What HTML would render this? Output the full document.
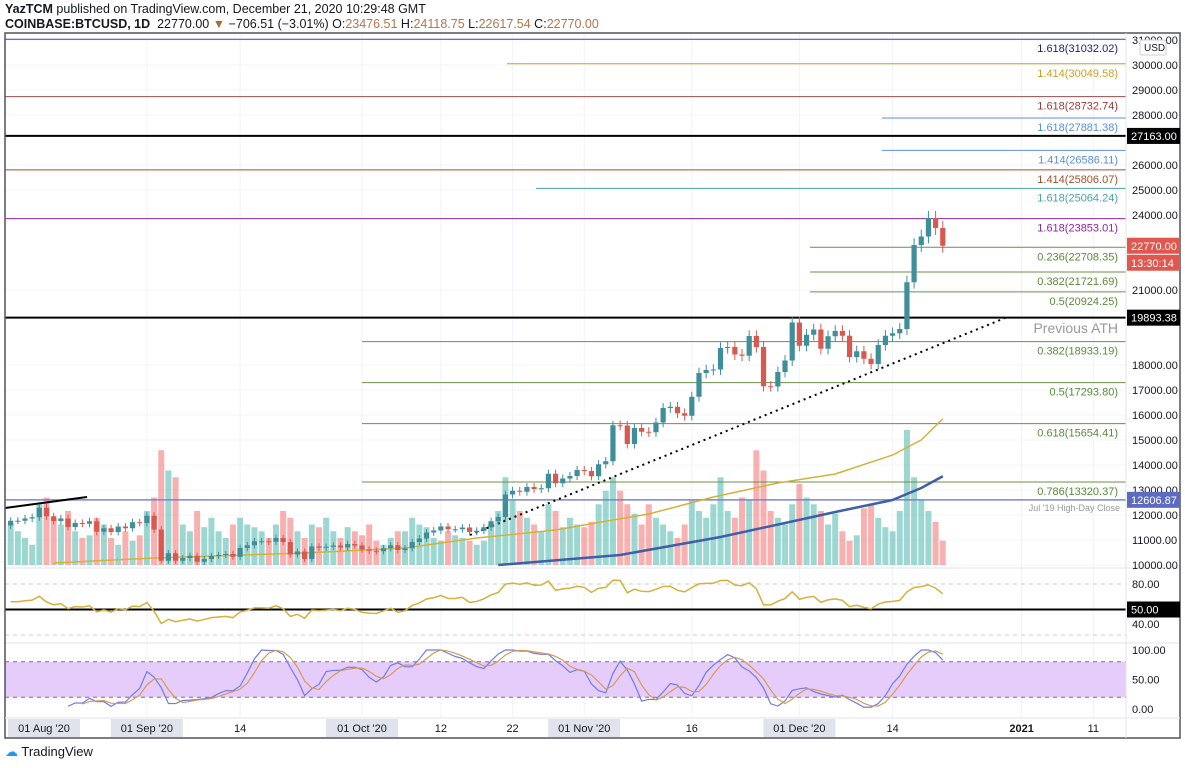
<!DOCTYPE html>
<html><head><meta charset="utf-8">
<style>
body{margin:0;background:#fff;font-family:"Liberation Sans",sans-serif;}
#wrap{position:relative;width:1185px;height:768px;overflow:hidden;background:#fff}
.hdr{position:absolute;left:5px;font-size:12.5px;color:#131722;white-space:nowrap}
</style></head><body>
<div id="wrap">
<div class="hdr" style="top:2px"><b>YazTCM</b> published on TradingView.com, December 21, 2020 10:29:48 GMT</div>
<div class="hdr" style="top:17px"><b>COINBASE:BTCUSD, 1D</b>&nbsp; 22770.00 <span style="color:#a0703a">▼</span> −706.51 (−3.01%) O:<span style="color:#b5744a">23476.51</span> H:<span style="color:#b5744a">24118.75</span> L:<span style="color:#b5744a">22617.54</span> C:<span style="color:#b5744a">22770.00</span></div>
<svg id="svg" width="1185" height="768" style="position:absolute;left:0;top:0"></svg>
<div style="position:absolute;left:5px;top:744px;font-size:13px;color:#131722"><span style="color:#2196f3">☁</span> TradingView</div>
</div>
<script>
const warmCloses=[11100,11350,11800,11070,11230,11190,11740,11770,11600,11750,11680,11880,11400,11580];
const closes=[11770,11770,11860,11910,12290,11950,11760,11860,11520,11680,11650,11750,11330,11470,11320,11540,11470,11710,11680,
11970,11420,10170,10470,10170,10280,10370,10130,10240,10360,10400,10440,10330,10680,10790,10950,10950,10930,11080,10920,10420,10540,10240,10740,10690,10730,10780,10700,10840,10780,
10620,10570,10550,10670,10790,10600,10670,10920,11060,11300,11380,11540,11430,11430,11500,11320,11370,11510,11750,11920,12820,12970,12930,13120,13040,13070,13650,13270,13460,13560,13800,
13760,13550,14030,14150,15590,15580,14840,15480,15330,15310,15700,16280,16330,16070,15970,16730,17680,17800,17820,18680,18720,18420,18370,19160,18720,17150,17140,17720,18180,19700,
18770,19210,19420,18650,19150,19360,19170,18320,18550,18250,18040,18800,19170,19270,19440,21310,22800,23140,23870,23480,22770];
const volumes=[30,25,20,15,45,50,35,30,40,25,20,22,35,30,20,15,25,18,22,
40,50,85,70,65,30,25,40,28,35,25,20,30,35,30,28,25,20,30,40,35,25,20,30,28,35,25,20,28,25,
22,30,18,15,20,25,25,35,30,28,20,18,25,22,20,18,15,18,30,40,65,48,40,35,30,25,45,40,28,35,30,
28,32,45,55,65,55,45,38,30,45,35,30,25,20,30,48,40,35,45,65,40,35,50,48,85,70,40,35,30,45,
60,50,45,40,30,38,25,18,22,42,45,35,28,25,40,100,65,48,40,32,18];
const yellowMaIdx=[6,20,41,55,65,76,84,89,98,107,115,123,127,130];
const yellowMa=[10080,10280,10480,10680,11080,11400,11800,12040,12720,13280,13640,14400,15000,15850];
const blueMaIdx=[68,85,99,108,115,123,127,130];
const blueMa=[10000,10400,11120,11680,12120,12600,13080,13550];
const priceTicks=[31000,30000,29000,28000,26000,25000,24000,21000,18000,17000,16000,15000,14000,13000,12000,11000,10000];
const timeLabels=[["01 Aug '20",-66,1],["01 Sep '20",-30,1],["14",-17,0],["01 Oct '20",0,1],["12",11,0],["22",21,0],["01 Nov '20",31,1],["16",46,0],["01 Dec '20",61,1],["14",74,0],["2021",92,0],["11",102,0]];
const levels=[[31032.02,"1.618(31032.02)","#1a237e","#3f3fb0",5,1],[30049.58,"1.414(30049.58)","#c9a227","#c9a227",507,1],[28732.74,"1.618(28732.74)","#9b3a3a","#9b4a4a",5,1],[27881.38,"1.618(27881.38)","#5b8fd6","#5b8fd6",882,1],[27163,"","#000","#000",5,2],[26586.11,"1.414(26586.11)","#5b8fd6","#5b8fd6",882,1],[25806.07,"1.414(25806.07)","#a0522d","#a0522d",5,1],[25064.24,"1.618(25064.24)","#4aa3a3","#4aa3a3",536,1],[23853.01,"1.618(23853.01)","#8e24aa","#8e24aa",5,1],[22708.35,"0.236(22708.35)","#5a8a3a","#6d8f4a",810,1],[21721.69,"0.382(21721.69)","#5a8a3a","#6d8f4a",810,1],[20924.25,"0.5(20924.25)","#5a8a3a","#6d8f4a",810,1],[19893.38,"","#000","#000",5,2],[18933.19,"0.382(18933.19)","#5a8a3a","#6d8f4a",362,1],[17293.80,"0.5(17293.80)","#5a8a3a","#6d8f4a",362,1],[15654.41,"0.618(15654.41)","#5a8a3a","#6d8f4a",362,1],[13320.37,"0.786(13320.37)","#5a8a3a","#6d8f4a",362,1],[12606.87,"","#5c6bc0","#7986cb",5,1.5]];

const S=document.getElementById('svg');const NS='http://www.w3.org/2000/svg';
function el(t,a,p){const e=document.createElementNS(NS,t);for(const k in a)e.setAttribute(k,a[k]);(p||S).appendChild(e);return e;}
const L=5,R=1126,FR=1180,T=33,B=738;
const X=i=>362+(i-49)*7.17;
const Xd=d=>362+d*7.17;
const Y=p=>565-(p-10000)*0.025;
const YR=v=>609.5-(v-50)*0.85;
const YS=v=>709-v*0.59;
const g=el('g',{'clip-path':'url(#c)'});
const cp=el('clipPath',{id:'c'});el('rect',{x:L,y:T,width:R-L,height:B-20-T},cp);
for(const tl of timeLabels){const x=Xd(tl[1]);if(x>L&&x<R){const v=el('line',{x1:x,x2:x,y1:T,y2:718,stroke:'#f0f3fa'},g);}}
for(const p of priceTicks){const h=el('line',{x1:L,x2:R,y1:Y(p),y2:Y(p),stroke:'#f3f4f8'},g);}
const vmax=100;
closes.forEach((c,i)=>{const o=i?closes[i-1]:warmCloses[warmCloses.length-1];const h=volumes[i]/vmax*135;
 const r=el('rect',{x:X(i)-3,y:565-h,width:6,height:h,fill:c>=o?'rgba(38,166,154,0.45)':'rgba(239,83,80,0.45)'},g);
 });
levels.forEach(l=>{const y=Y(l[0]);const ln=el('line',{x1:l[4],x2:R,y1:y,y2:y,stroke:l[3],'stroke-width':l[5]},g);
 
 if(l[1]){const t=el('text',{x:1118,y:y+13,'text-anchor':'end','font-size':11,fill:l[2]});t.textContent=l[1];}});
function poly(ix,vals,col,w,name){const pts=ix.map((d,k)=>[X(d),Y(vals[k])]).map(p=>p.join(',')).join(' ');
 const p=el('polyline',{points:pts,fill:'none',stroke:col,'stroke-width':w,'stroke-linejoin':'round'},g);}
poly(yellowMaIdx,yellowMa,'#d4b13a',1.5,'ma-50-line');poly(blueMaIdx,blueMa,'#3f5fa8',2.5,'ma-200-line');
let tl=el('line',{x1:470,y1:535,x2:1005,y2:318,stroke:'#000','stroke-width':2,'stroke-dasharray':'2,4'},g);
tl=el('line',{x1:5,y1:508,x2:87,y2:497,stroke:'#000','stroke-width':2},g);
closes.forEach((c,i)=>{const o=i?closes[i-1]:warmCloses[warmCloses.length-1];const up=c>=o;const col=up?'#3f8e9a':'#d9584f';
 const hi=Math.max(o,c)*1.012,lo=Math.min(o,c)*0.988;const x=X(i);
 const w=el('line',{x1:x,x2:x,y1:Y(hi),y2:Y(lo),stroke:col,'stroke-width':1},g);
 const b=el('rect',{x:x-2.6,y:Y(Math.max(o,c)),width:5.2,height:Math.max(1,Math.abs(Y(o)-Y(c))),fill:col},g);});
let t=el('text',{x:1118,y:333,'text-anchor':'end','font-size':14,fill:'#999'});t.textContent='Previous ATH';
t=el('text',{x:1120,y:511,'text-anchor':'end','font-size':9,fill:'#999'});t.textContent="Jul '19 High-Day Close";
[568,643].forEach(y=>{const s=el('line',{x1:L,x2:FR,y1:y,y2:y,stroke:'#e0e3eb'});});
const all=warmCloses.concat(closes);const rsi=[];let ag=0,al=0;
for(let i=1;i<all.length;i++){const d=all[i]-all[i-1];const gg=Math.max(d,0),ll=Math.max(-d,0);
 if(i<=14){ag+=gg/14;al+=ll/14;}else{ag=(ag*13+gg)/14;al=(al*13+ll)/14;}
 rsi[i]=i>=14?100-100/(1+ag/(al||1e-9)):null;}
const off=warmCloses.length;
[[584,'#ccc','4,4',1],[635,'#ccc','4,4',1],[609.5,'#000','',2]].forEach(a=>{const l=el('line',{x1:L,x2:R,y1:a[0],y2:a[0],stroke:a[1],'stroke-dasharray':a[2],'stroke-width':a[3]});});
let pts=[];for(let i=0;i<closes.length;i++){const v=rsi[i+off];if(v!=null)pts.push(X(i)+','+YR(v));}
let pl=el('polyline',{points:pts.join(' '),fill:'none',stroke:'#d4b13a','stroke-width':1.5});
const br=el('rect',{x:L,y:YS(80),width:R-L,height:YS(20)-YS(80),fill:'#e6ccfa'});
[80,20].forEach(v=>{const l=el('line',{x1:L,x2:R,y1:YS(v),y2:YS(v),stroke:'#777','stroke-dasharray':'4,4'});});
const st=[];for(let i=0;i<all.length;i++){if(i<20||rsi[i]==null){st[i]=null;continue;}let mn=1e9,mx=-1e9;for(let j=i-13;j<=i;j++){const r=rsi[j];if(r==null)continue;mn=Math.min(mn,r);mx=Math.max(mx,r);}st[i]=mx>mn?(rsi[i]-mn)/(mx-mn)*100:50;}
const sma=(a,i,n)=>{let s=0;for(let j=i-n+1;j<=i;j++){if(a[j]==null)return null;s+=a[j];}return s/n;};
const K=all.map((_,i)=>sma(st,i,3)),D=all.map((_,i)=>sma(K,i,3));
[[K,'#6f7ce8','stoch-k-line'],[D,'#d59a5a','stoch-d-line']].forEach(s=>{const p=[];for(let i=0;i<closes.length;i++){const v=s[0][i+off];if(v!=null)p.push(X(i)+','+YS(v));}
 const q=el('polyline',{points:p.join(' '),fill:'none',stroke:s[1],'stroke-width':1.2});});
let f=el('rect',{x:L,y:T,width:FR-L,height:B-T,fill:'none',stroke:'#50535e','stroke-width':1.5});
f=el('line',{x1:R,x2:R,y1:T,y2:B,stroke:'#e0e3eb'});
f=el('line',{x1:L,x2:FR,y1:718,y2:718,stroke:'#e0e3eb'});
priceTicks.forEach(p=>{const a=el('text',{x:1132,y:Y(p)+4,'font-size':11,fill:'#131722'});a.textContent=p.toFixed(2);});
function box(y,txt,bg,name,fg){const r=el('rect',{x:1127,y:y-8,width:53,height:16,fill:bg});
 const a=el('text',{x:1131,y:y+4,'font-size':11,fill:fg||'#fff'});a.textContent=txt;}
box(Y(27163),'27163.00','#000','level-27163-tag');box(Y(19893.38),'19893.38','#000','level-19893-tag');box(Y(12606.87),'12606.87','#5c6bc0','level-12606-tag');
box(Y(22770),'22770.00','#e0574f','last-price-tag');box(Y(22770)+17,'13:30:14','#e0574f','countdown-tag');
let u=el('rect',{x:1140,y:40,width:26,height:15,fill:'#fff',stroke:'#ccc',rx:2});
t=el('text',{x:1144,y:51,'font-size':10,fill:'#131722'});t.textContent='USD';
[[80,YR(80)],[40,YR(40)+6]].forEach(a=>{const q=el('text',{x:1132,y:a[1]+4,'font-size':11,fill:'#131722'});q.textContent=a[0].toFixed(2);});
box(YR(50),'50.00','#000','rsi-50-tag');
[100,50,0].forEach(v=>{const q=el('text',{x:1132,y:YS(v)+4,'font-size':11,fill:'#131722'});q.textContent=v.toFixed(2);});
timeLabels.forEach(tl=>{let x=Xd(tl[1]);const w=tl[0].length*6.2+10;if(x-w/2<L+3)x=L+3+w/2;
 if(tl[2]){const r=el('rect',{x:x-w/2,y:719,width:w,height:18,fill:'#e0e3eb'});}
 const q=el('text',{x:x,y:732,'text-anchor':'middle','font-size':11,fill:'#131722','font-weight':tl[0]=='2021'?'bold':'normal'});q.textContent=tl[0];});
</script>
</body></html>
